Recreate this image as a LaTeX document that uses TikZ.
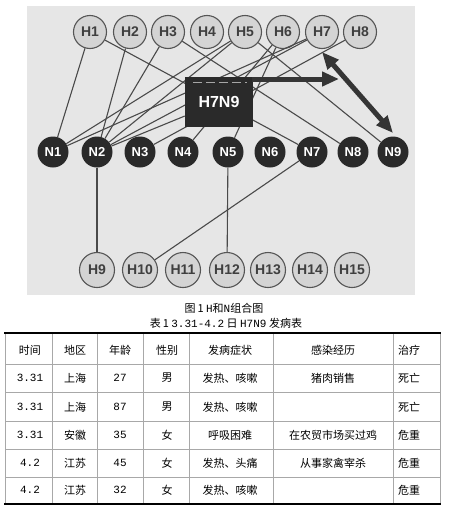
\documentclass[tikz,border=0pt]{standalone}
\usepackage{fontspec}
\usetikzlibrary{arrows.meta}
\setmainfont{Liberation Sans}
\setmonofont{Liberation Mono}
\newfontfamily\cjk{Noto Sans CJK SC}
\definecolor{photo}{HTML}{E6E6E6}
\definecolor{hfill}{HTML}{D4D4D4}
\definecolor{ink}{HTML}{2A2A2A}
\definecolor{rule}{HTML}{A8A8A8}

\begin{document}
\begin{tikzpicture}[x=1pt,y=-1pt,
  hnode/.style={circle,draw=ink!80,line width=1.1pt,fill=hfill,minimum size=33pt,inner sep=0pt,text=ink!90,font=\bfseries\fontsize{14}{14}\selectfont},
  hlow/.style={hnode,minimum size=35pt},
  nnode/.style={circle,fill=ink,minimum size=31pt,inner sep=0pt,text=white,font=\bfseries\fontsize{13}{13}\selectfont},
  link/.style={ink!85,line width=1.1pt},
  bigarrow/.style={ink!95,line width=5pt,-{Triangle[length=17pt,width=14pt]}},
  dblarrow/.style={ink!95,line width=5pt,{Triangle[length=17pt,width=14pt]}-{Triangle[length=17pt,width=14pt]}},
  cell/.style={inner sep=0pt,font=\cjk\fontsize{11}{11}\selectfont}]
  \useasboundingbox (0,0) rectangle (454,509);
  \fill[photo] (27,6) rectangle (415,295);

  % H row on top
  \draw (90,32) node[hnode] (H1) {H1};
  \draw (130,32) node[hnode] (H2) {H2};
  \draw (168,32) node[hnode] (H3) {H3};
  \draw (207,32) node[hnode] (H4) {H4};
  \draw (245,32) node[hnode] (H5) {H5};
  \draw (283,32) node[hnode] (H6) {H6};
  \draw (322,32) node[hnode] (H7) {H7};
  \draw (360,32) node[hnode] (H8) {H8};

  % N row
  \draw (53,152) node[nnode] (N1) {N1};
  \draw (97,152) node[nnode] (N2) {N2};
  \draw (140,152) node[nnode] (N3) {N3};
  \draw (183,152) node[nnode] (N4) {N4};
  \draw (228,152) node[nnode] (N5) {N5};
  \draw (270,152) node[nnode] (N6) {N6};
  \draw (312,152) node[nnode] (N7) {N7};
  \draw (353,152) node[nnode] (N8) {N8};
  \draw (393,152) node[nnode] (N9) {N9};

  % H row at the bottom
  \draw (97,270) node[hlow] (H9) {H9};
  \draw (140,270) node[hlow] (H10) {H10};
  \draw (183,270) node[hlow] (H11) {H11};
  \draw (227,270) node[hlow] (H12) {H12};
  \draw (268,270) node[hlow] (H13) {H13};
  \draw (310,270) node[hlow] (H14) {H14};
  \draw (352,270) node[hlow] (H15) {H15};

  \draw[link] (H1) -- (N1);
  \draw[link] (H1) -- (N7);
  \draw[link] (H2) -- (N2);
  \draw[link] (H3) -- (N2);
  \draw[link] (H3) -- (N8);
  \draw[link] (H5) -- (N1);
  \draw[link] (H5) -- (N2);
  \draw[link] (H5) -- (N9);
  \draw[link] (H6) -- (N4);
  \draw[link] (H6) -- (N5);
  \draw[link] (H7) -- (N1);
  \draw[link] (H7) -- (N2);
  \draw[link] (H8) -- (N3);
  \draw[link] (N2) -- (H9);
  \draw[link] (N5) -- (H12);
  \draw[link] (N7) -- (H10);

  \draw (219,102) node[rectangle,fill=ink,minimum width=68pt,minimum height=50pt,text=white,font=\bfseries\fontsize{16}{16}\selectfont] (box) {\raisebox{-5pt}{H7N9}};
  \draw[link] (N2) -- (box);
  \draw[gray!70,line width=1pt,dash pattern=on 9pt off 4pt] (193,82) -- (247,82);

  \coordinate (arrS) at (252,79);
  \coordinate (arrE) at (339,79);
  \draw[bigarrow] (arrS) -- (arrE);
  \coordinate (dblA) at (322,52);
  \coordinate (dblB) at (393,133);
  \draw[dblarrow] (dblA) -- (dblB);

  % captions
  \node[cell] (cap1) at (224,308) {图\,1\ \texttt{H}和\texttt{N}组合图};
  \node[cell] (cap2) at (226,323) {表\,1\ \texttt{3.31-4.2}\ 日\ \texttt{H7N9}\ 发病表};

  % table
  \draw[rule,line width=0.8pt] (5,333) -- (5,504) (52,333) -- (52,504) (97,333) -- (97,504)
    (143,333) -- (143,504) (189,333) -- (189,504) (273,333) -- (273,504)
    (393,333) -- (393,504) (440,333) -- (440,504);
  \draw[rule,line width=0.8pt] (5,364) -- (440,364) (5,392) -- (440,392) (5,421) -- (440,421)
    (5,449) -- (440,449) (5,477) -- (440,477);
  \draw[black,line width=1.4pt] (4,333) -- (441,333);
  \draw[black,line width=1.4pt] (4,504) -- (441,504);

  \node[cell] (t11) at (30,350) {时间};
  \node[cell] (t12) at (75,350) {地区};
  \node[cell] (t13) at (120,350) {年龄};
  \node[cell] (t14) at (167,350) {性别};
  \node[cell] (t15) at (230,350) {发病症状};
  \node[cell] (t16) at (333,350) {感染经历};
  \node[cell] (t17) at (409,350) {治疗};

  \node[cell] (t21) at (30,378) {\texttt{3.31}};
  \node[cell] (t22) at (75,378) {上海};
  \node[cell] (t23) at (120,378) {\texttt{27}};
  \node[cell] (t24) at (167,378) {男};
  \node[cell] (t25) at (230,378) {发热、咳嗽};
  \node[cell] (t26) at (333,378) {猪肉销售};
  \node[cell] (t27) at (409,378) {死亡};

  \node[cell] (t31) at (30,407) {\texttt{3.31}};
  \node[cell] (t32) at (75,407) {上海};
  \node[cell] (t33) at (120,407) {\texttt{87}};
  \node[cell] (t34) at (167,407) {男};
  \node[cell] (t35) at (230,407) {发热、咳嗽};
  \node[cell] (t37) at (409,407) {死亡};

  \node[cell] (t41) at (30,435) {\texttt{3.31}};
  \node[cell] (t42) at (75,435) {安徽};
  \node[cell] (t43) at (120,435) {\texttt{35}};
  \node[cell] (t44) at (167,435) {女};
  \node[cell] (t45) at (230,435) {呼吸困难};
  \node[cell] (t46) at (333,435) {在农贸市场买过鸡};
  \node[cell] (t47) at (409,435) {危重};

  \node[cell] (t51) at (30,463) {\texttt{4.2}};
  \node[cell] (t52) at (75,463) {江苏};
  \node[cell] (t53) at (120,463) {\texttt{45}};
  \node[cell] (t54) at (167,463) {女};
  \node[cell] (t55) at (230,463) {发热、头痛};
  \node[cell] (t56) at (333,463) {从事家禽宰杀};
  \node[cell] (t57) at (409,463) {危重};

  \node[cell] (t61) at (30,490) {\texttt{4.2}};
  \node[cell] (t62) at (75,490) {江苏};
  \node[cell] (t63) at (120,490) {\texttt{32}};
  \node[cell] (t64) at (167,490) {女};
  \node[cell] (t65) at (230,490) {发热、咳嗽};
  \node[cell] (t67) at (409,490) {危重};
\end{tikzpicture}
\end{document}
